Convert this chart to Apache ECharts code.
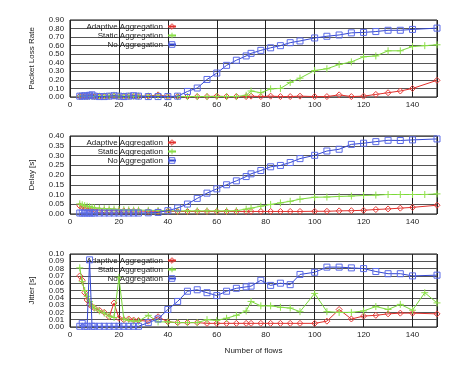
<!DOCTYPE html>
<html>
<head>
<meta charset="utf-8">
<script src="https://cdn.jsdelivr.net/npm/echarts@6/dist/echarts.min.js"></script>
<style>html,body{margin:0;padding:0;background:#fff}#c{width:474px;height:366px}</style>
</head>
<body>
<div id="c"></div>
<script>
var flows = [4,5,6,7,8,9,10,12,14,16,18,20,22,24,26,28,32,36,40,44,48,52,56,60,64,68,72,74,78,82,86,90,94,100,105,110,115,120,125,130,135,140,145,150];
var seriesNames = ['Adaptive Aggregation','Static Aggregation','No Aggregation'];
var panelTitles = ['Packet Loss Rate','Delay [s]','Jitter [s]'];
var xTickLabels = ['0','20','40','60','80','100','120','140'];

var adaptiveLoss = [0.01,0.01,0.01,0.005,0.01,0.01,0.005,0.005,0.005,0.01,0.01,0.005,0.005,0.01,0.01,0.01,0.01,0.025,0.005,0.005,0.005,0.005,0.005,0.01,0.005,0.005,0.005,0.01,0.005,0.01,0.005,0.005,0.01,0.005,0.005,0.025,0.005,0.01,0.03,0.05,0.07,0.1,null,0.195];
var staticLoss = [0.01,0.01,0.01,0.01,0.01,0.01,0.01,0.01,0.01,0.01,0.02,0.01,0.01,0.01,0.01,0.01,0.01,0.01,0.005,0.005,0.005,0.005,0.005,0.005,0.005,0.005,0.02,0.07,0.05,0.095,0.1,0.17,0.22,0.31,0.33,0.38,0.41,0.47,0.48,0.54,0.54,0.59,0.6,0.61];
var noAggLoss = [0.01,0.01,0.015,0.01,0.02,0.025,0.01,0.005,0.005,0.01,0.015,0.01,0.005,0.01,0.015,0.01,0.005,0.005,0.005,0.01,0.065,0.105,0.205,0.28,0.37,0.43,0.48,0.51,0.545,0.575,0.6,0.635,0.655,0.69,0.71,0.725,0.75,0.755,0.765,0.78,0.78,0.79,null,0.805];

var adaptiveDelay = [0.042,0.036,0.032,0.029,0.026,0.024,0.022,0.02,0.019,0.018,0.017,0.016,0.016,0.015,0.015,0.015,0.014,0.014,0.014,0.013,0.013,0.013,0.013,0.013,0.013,0.013,0.013,0.013,0.013,0.013,0.013,0.013,0.013,0.014,0.014,0.016,0.017,0.019,0.023,0.026,0.03,0.034,null,0.045];
var staticDelay = [0.052,0.047,0.043,0.04,0.037,0.034,0.031,0.029,0.027,0.026,0.025,0.023,0.022,0.021,0.02,0.02,0.019,0.018,0.017,0.016,0.016,0.016,0.016,0.016,0.016,0.017,0.025,0.03,0.04,0.049,0.057,0.065,0.076,0.086,0.087,0.09,0.092,0.095,0.097,0.1,0.1,0.1,0.1,0.103];
var noAggDelay = [0.005,0.005,0.005,0.005,0.005,0.005,0.005,0.005,0.005,0.005,0.005,0.005,0.005,0.005,0.005,0.005,0.006,0.008,0.017,0.031,0.051,0.08,0.107,0.129,0.15,0.17,0.192,0.206,0.223,0.242,0.249,0.264,0.284,0.301,0.323,0.332,0.357,0.363,0.371,0.378,0.377,0.38,null,0.385];

var adaptiveJitter = [0.070,0.064,0.047,0.037,0.031,0.028,0.026,0.023,0.020,0.014,0.033,0.012,0.010,0.011,0.0095,0.009,0.008,0.014,0.007,0.006,0.006,0.006,0.005,0.005,0.005,0.005,0.005,0.005,0.005,0.005,0.005,0.005,0.005,0.005,0.008,0.024,0.011,0.015,0.016,0.018,0.019,0.019,null,0.018];
var staticJitter = [0.081,0.062,0.050,0.042,0.035,0.029,0.026,0.022,0.019,0.015,0.013,0.068,0.011,0.009,0.008,0.008,0.016,0.007,0.007,0.006,0.006,0.006,0.01,0.009,0.012,0.016,0.022,0.035,0.029,0.029,0.027,0.026,0.021,0.046,0.021,0.020,0.020,0.022,0.028,0.024,0.031,0.023,0.047,0.033];
var noAggJitter = [0.001,0.005,0.001,0.001,0.092,0.001,0.001,0.001,0.001,0.001,0.001,0.001,0.001,0.001,0.001,0.001,0.006,0.011,0.024,0.035,0.049,0.051,0.047,0.043,0.049,0.053,0.055,0.056,0.064,0.057,0.060,0.058,0.072,0.075,0.082,0.082,0.081,0.080,0.076,0.073,0.073,0.070,null,0.071];

var yMax = [0.9, 0.4, 0.1];
var yStep = [0.1, 0.05, 0.01];

var panels = [
  [adaptiveLoss, staticLoss, noAggLoss],
  [adaptiveDelay, staticDelay, noAggDelay],
  [adaptiveJitter, staticJitter, noAggJitter]
];

var FONT = 'Liberation Sans, Arial, sans-serif';
var lineColors = ['#e0302c', '#7ad83a', '#3346d0'];
var markColors = ['#e8403c', '#8ee04a', '#5a6ae8'];
var symbols = ['diamond', 'path://M0,5L10,5M5,0L5,10', 'rect'];
var gridTops = [20, 136, 254];
var gridHeights = [77, 78, 73];
var labelStyle = {fontFamily: FONT, fontSize: 7.8, color: '#222', margin: 6, showMinLabel: true, showMaxLabel: true, hideOverlap: false};

var grids = [], xAxes = [], yAxes = [], series = [], legends = [];
for (var p = 0; p < 3; p++) {
  grids.push({left: 70, right: 37, top: gridTops[p], height: gridHeights[p], show: true, borderColor: '#111', borderWidth: 1, backgroundColor: '#fff'});
  xAxes.push({
    type: 'value', gridIndex: p, min: 0, max: 150, interval: 20,
    name: p === 2 ? 'Number of flows' : '', nameLocation: 'middle', nameGap: 20,
    nameTextStyle: {fontFamily: FONT, fontSize: 8, color: '#222'},
    axisLine: {show: false}, axisTick: {show: false},
    axisLabel: {fontFamily: FONT, fontSize: 8, color: '#222', margin: 4, showMinLabel: true,
      formatter: function (v) { var s = String(v); return xTickLabels.indexOf(s) >= 0 ? s : ''; }},
    splitLine: {show: true, lineStyle: {color: '#222', width: 1}}
  });
  yAxes.push({
    type: 'value', gridIndex: p, min: 0, max: yMax[p], interval: yStep[p], position: 'left',
    name: panelTitles[p], nameLocation: 'middle', nameGap: 34, nameRotate: 90,
    nameTextStyle: {fontFamily: FONT, fontSize: 8, color: '#222'},
    axisLine: {show: false}, axisTick: {show: false},
    axisLabel: Object.assign({show: p !== 2, formatter: function (v) { return v.toFixed(2); }}, labelStyle),
    splitLine: {show: true, lineStyle: {color: '#555', width: 1}}
  });
  for (var s = 0; s < 3; s++) {
    var vals = panels[p][s];
    var data = [];
    for (var i = 0; i < flows.length; i++) {
      if (vals[i] !== null) data.push([flows[i], vals[i]]);
    }
    series.push({
      type: 'line', name: seriesNames[s], xAxisIndex: p, yAxisIndex: p,
      data: data, symbol: symbols[s], symbolSize: s === 1 ? 7 : 6,
      showAllSymbol: true, animation: false, z: 2 + s,
      lineStyle: {color: lineColors[s], width: 1},
      itemStyle: {color: 'rgba(0,0,0,0)', borderColor: markColors[s], borderWidth: 1}
    });
  }
  legends.push({
    orient: 'vertical', align: 'right', right: 297, top: gridTops[p] + 2.5,
    itemWidth: 8, itemHeight: 7, itemGap: 1, padding: 0,
    selectedMode: false,
    itemStyle: {color: 'rgba(0,0,0,0)', borderColor: 'inherit', borderWidth: 1},
    textStyle: {fontFamily: FONT, fontSize: 8, color: '#222'},
    data: seriesNames.slice()
  });
}

// Jitter tick labels: the dense 0.01 ticks are split over two label-only axes
var jStep = yStep[2];
var jTop = gridTops[2], jH = gridHeights[2], jPx = jH * jStep / yMax[2];
// even labels on the jitter grid itself
yAxes.push({
  type: 'value', gridIndex: 2, min: 0, max: yMax[2], interval: 2 * jStep, position: 'left',
  axisLine: {show: false}, axisTick: {show: false}, splitLine: {show: false},
  axisLabel: Object.assign({formatter: function (v) { return v.toFixed(2); }}, labelStyle)
});
// odd labels on a hidden helper grid spanning 0.01 .. 0.09
grids.push({left: 70, right: 37, top: jTop + jPx, height: jH - 2 * jPx, show: false});
xAxes.push({type: 'value', gridIndex: 3, min: 0, max: 150, show: false});
yAxes.push({
  type: 'value', gridIndex: 3, min: 0, max: yMax[2] - 2 * jStep, interval: 2 * jStep, position: 'left',
  axisLine: {show: false}, axisTick: {show: false}, splitLine: {show: false},
  axisLabel: Object.assign({formatter: function (v) { return (v + jStep).toFixed(2); }}, labelStyle)
});

var chart = echarts.init(document.getElementById('c'), null, {renderer: 'canvas'});
chart.setOption({
  backgroundColor: '#fff',
  animation: false,
  grid: grids, xAxis: xAxes, yAxis: yAxes, series: series, legend: legends
});
</script>
</body>
</html>
